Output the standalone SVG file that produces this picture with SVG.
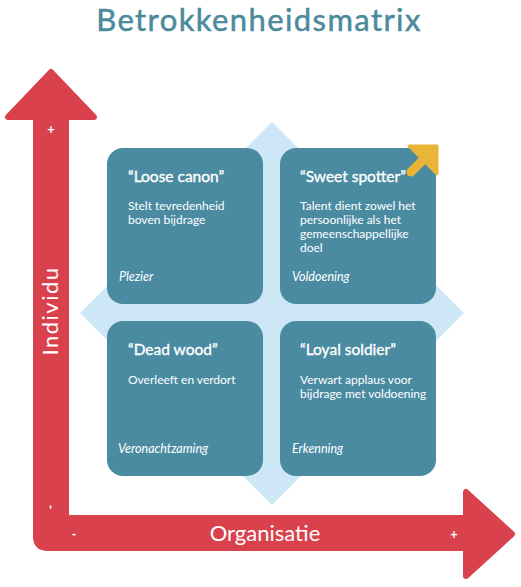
<svg xmlns="http://www.w3.org/2000/svg" width="521" height="587" viewBox="0 0 521 587">
<style>
.t{font-family:Lato,"Open Sans","Liberation Sans",sans-serif;fill:#fff}
.h{font-size:15.5px;stroke:#fff;stroke-width:0.35}
.b{font-size:12px}
.f{font-size:12.5px;font-style:italic}
.box{fill:#4a8ba2}
.sign{font-family:Lato,"Liberation Sans",sans-serif;fill:#fff;font-size:13px;font-weight:bold;text-anchor:middle}
.ax{font-family:Lato,"Open Sans","Liberation Sans",sans-serif;font-size:22px;fill:#fff;text-anchor:middle}
</style>
<rect width="521" height="587" fill="#fff"/>
<text x="259" y="31" text-anchor="middle" style="font-family:Lato,'Open Sans','Liberation Sans',sans-serif;font-size:31px;letter-spacing:1.4px;fill:#4b8a9b;stroke:#4b8a9b;stroke-width:0.5">Betrokkenheidsmatrix</text>
<g id="axes">
<path d="M66,117 L94,117 L51,72 L8,117 L36,117 L36,536 Q36,548 48,548 L466,548 L466,576 L512,534 L466,492 L466,518 L66,518 Z" fill="#d9414d" stroke="#d9414d" stroke-width="6" stroke-linejoin="round"/>
<text x="51" y="134" class="sign">+</text>
<text x="0" y="0" class="sign" transform="translate(55,507) rotate(-90)">-</text>
<text x="74" y="539" class="sign">-</text>
<text x="454" y="539" class="sign">+</text>
<text x="265" y="541" class="ax">Organisatie</text>
<text x="0" y="0" class="ax" transform="translate(58,311) rotate(-90)" style="letter-spacing:1.5px">Individu</text>
</g>
<polygon id="diamond" points="272,122 464,313 272,505 80,313" fill="#cde7f6"/>
<g id="loose-canon">
<rect class="box" x="107" y="148" width="156" height="156" rx="16"/>
<text class="t h" x="128" y="182">“Loose canon”</text>
<text class="t b" x="128" y="210">Stelt tevredenheid</text>
<text class="t b" x="128" y="224">boven bijdrage</text>
<text class="t f" x="119" y="281">Plezier</text>
</g>
<g id="sweet-spotter">
<rect class="box" x="280" y="148" width="156" height="156" rx="16"/>
<text class="t h" x="300" y="182">“Sweet spotter”</text>
<text class="t b" x="300" y="210">Talent dient zowel het</text>
<text class="t b" x="300" y="224">persoonlijke als het</text>
<text class="t b" x="300" y="238">gemeenschappellijke</text>
<text class="t b" x="300" y="252">doel</text>
<text class="t f" x="292" y="281">Voldoening</text>
<g id="yellow-arrow" fill="#e9b536" stroke="#e9b536" stroke-linejoin="round">
<polygon points="409,146 437,146 437,174" stroke-width="3"/>
<line x1="423" y1="160" x2="411" y2="172" stroke-width="9" stroke-linecap="round"/>
</g>
</g>
<g id="dead-wood">
<rect class="box" x="107" y="321" width="156" height="155" rx="16"/>
<text class="t h" x="128" y="355">“Dead wood”</text>
<text class="t b" x="128" y="384">Overleeft en verdort</text>
<text class="t f" x="118" y="453">Veronachtzaming</text>
</g>
<g id="loyal-soldier">
<rect class="box" x="280" y="321" width="156" height="155" rx="16"/>
<text class="t h" x="300" y="355">“Loyal soldier”</text>
<text class="t b" x="300" y="384">Verwart applaus voor</text>
<text class="t b" x="300" y="398">bijdrage met voldoening</text>
<text class="t f" x="292" y="453">Erkenning</text>
</g>
</svg>
